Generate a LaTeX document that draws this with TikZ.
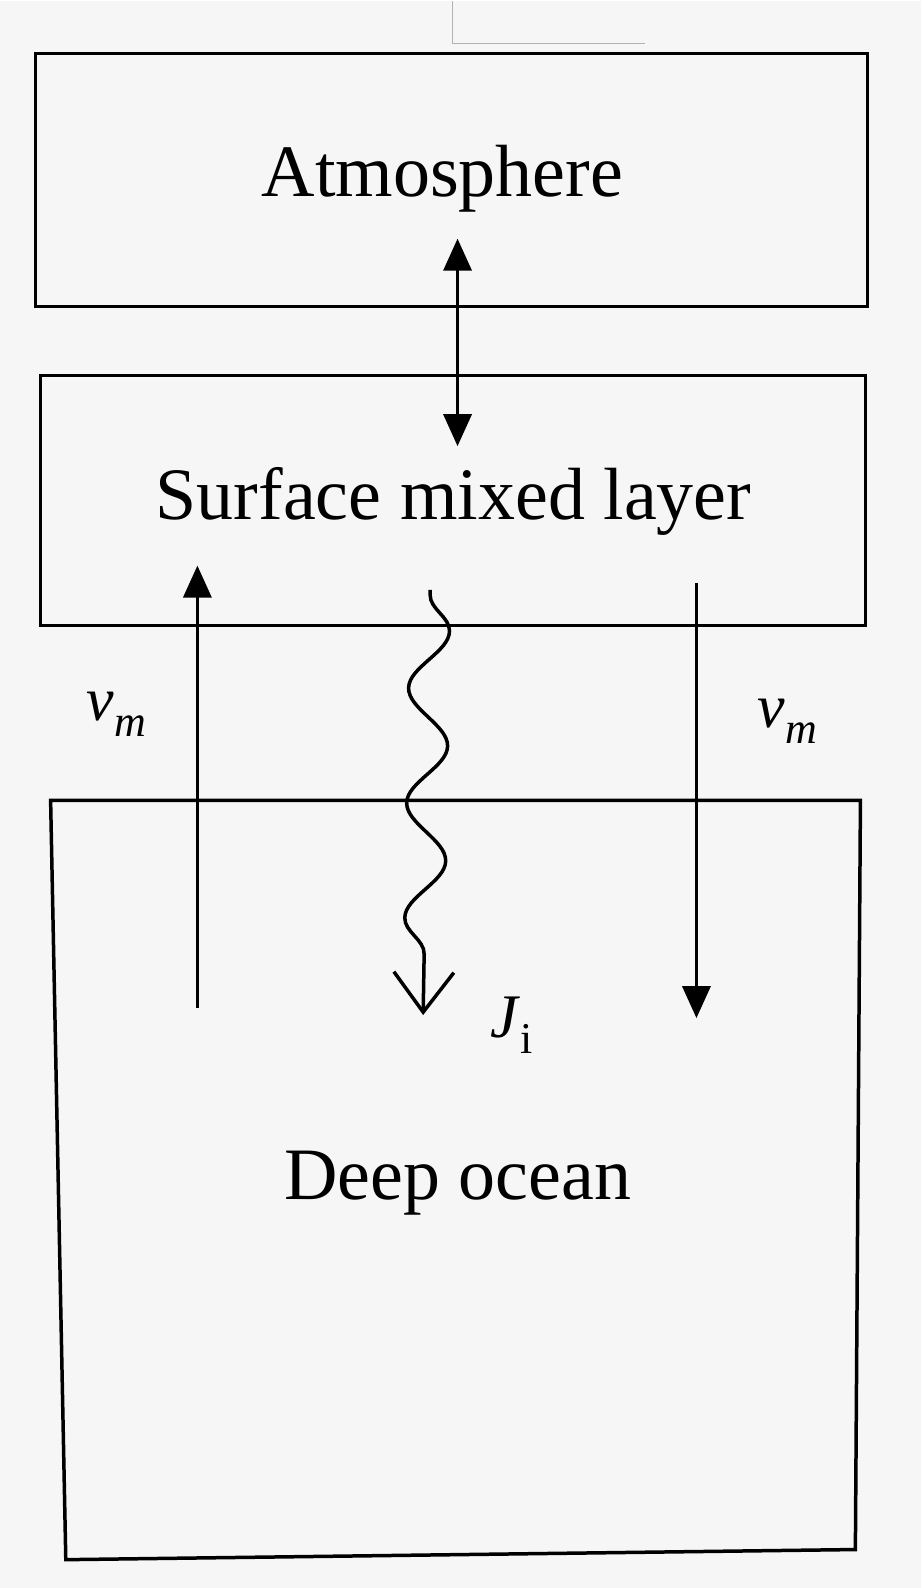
\documentclass[tikz,border=0pt]{standalone}
\usepackage{fontspec}
\setmainfont{Liberation Serif}
\usetikzlibrary{arrows.meta,decorations.pathmorphing}
\newcommand{\subtx}[2]{\textit{#1}\raisebox{-0.25em}{\fontsize{44}{46}\selectfont #2}}
\begin{document}
\begin{tikzpicture}[x=1.013pt,y=-1.013pt,
  box/.style={draw,line width=3.5pt},
  lbl/.style={font=\fontsize{74}{78}\selectfont},
  arr/.style={line width=3.5pt,-{Triangle[length=32pt,width=28pt]}},
  mlbl/.style={font=\fontsize{62}{66}\selectfont}]
\fill[white!93!gray] (0,0) rectangle (910,1568);
\draw[gray!60,line width=1.5pt] (447,0) -- (447,42) -- (637,42);
\draw[box] (35,52) rectangle (857,302);
\draw[box] (40,370) rectangle (855,617);
\draw[box] (50,790) -- (850,790) -- (845,1530) -- (65,1540) -- cycle;
\node[lbl] (atm) at (437,176) {Atmosphere};
\node[lbl] (sml) at (448,495) {Surface mixed layer};
\node[lbl] (deep) at (452,1168) {Deep ocean};
\coordinate (a1) at (452,235); \coordinate (a2) at (452,440);
\draw[line width=3.5pt,{Triangle[length=32pt,width=28pt]}-{Triangle[length=32pt,width=28pt]}] (a1) -- (a2);
\coordinate (u1) at (195,995); \coordinate (u2) at (195,558);
\draw[arr] (u1) -- (u2);
\coordinate (d1) at (688,575); \coordinate (d2) at (688,1005);
\draw[arr] (d1) -- (d2);
\coordinate (w1) at (425,582); \coordinate (w2) at (418,1002);
\draw[line width=3.5pt,-{Straight Barb[length=40pt,width=60pt,line width=3.5pt]},
  decorate,decoration={snake,amplitude=20pt,segment length=115pt,pre length=5pt,post length=25pt}] (w1) -- (w2);
\node[mlbl] (vl) at (115,705) {\subtx{v}{\itshape m}};
\node[mlbl] (vr) at (778,712) {\subtx{v}{\itshape m}};
\node[mlbl] (ji) at (505,1012) {\subtx{J}{i}};
\end{tikzpicture}
\end{document}
